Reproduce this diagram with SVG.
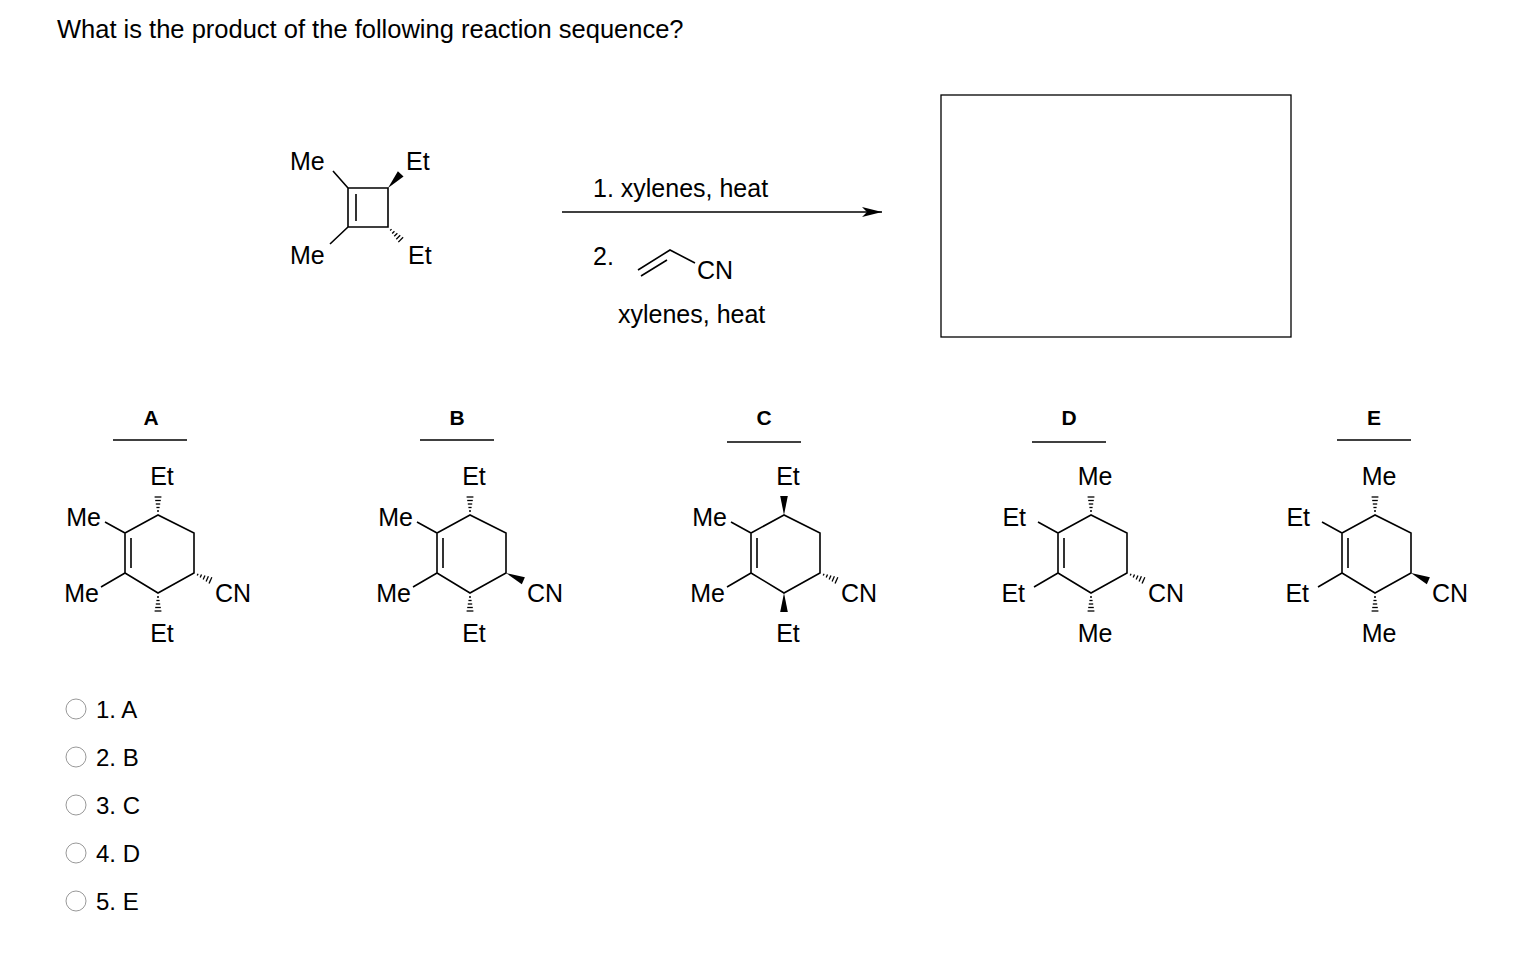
<svg xmlns="http://www.w3.org/2000/svg" width="1522" height="957" viewBox="0 0 1522 957">
<style>
text{font-family:"Liberation Sans",Arial,sans-serif;font-size:25px;fill:#000}
.b{stroke:#000;stroke-width:1.6;fill:none}
.h{stroke:#000;stroke-width:1.3}
.t{font-weight:bold;font-size:21px;text-anchor:middle}
.c{text-anchor:middle}
.e{text-anchor:end}
.o{font-size:24px}
.r{fill:#fff;stroke:#999;stroke-width:1}
</style>
<defs>
<g id="hash"><line class="h" x1="4" y1="-1" x2="4" y2="1"/><line class="h" x1="7.5" y1="-1.6" x2="7.5" y2="1.6"/><line class="h" x1="11" y1="-2.2" x2="11" y2="2.2"/><line class="h" x1="14.5" y1="-2.8" x2="14.5" y2="2.8"/><line class="h" x1="18" y1="-3.4" x2="18" y2="3.4"/></g>
<polygon id="wedge" points="0,0 19,-3.8 19,3.8" fill="#000"/>
<g id="ring"><path class="b" d="M158,515 L125,533 L125,573 L158,593 L194,573 L194,533 Z M131,538 L131,568 M125,533 L105,522 M125,573 L101,587"/></g>
<marker id="ah" markerWidth="22" markerHeight="10" refX="20" refY="5" orient="auto" markerUnits="userSpaceOnUse"><path d="M0,0 L20,5 L0,10 L5,5 Z" fill="#000"/></marker>
</defs>
<text x="57" y="38" style="font-size:25.5px">What is the product of the following reaction sequence?</text>
<g id="reactant">
<path class="b" d="M348,188 H388 V227 H348 Z M356,194 V221 M348,188 L333,171 M348,227 L330,244"/>
<use href="#wedge" transform="translate(388,188) rotate(-48)"/>
<use href="#hash" transform="translate(388,227) rotate(45)"/>
<text x="290" y="170">Me</text><text x="406" y="170">Et</text>
<text x="290" y="264">Me</text><text x="408" y="264">Et</text>
</g>
<g id="connectors">
<line class="b" x1="562" y1="212" x2="882" y2="212" marker-end="url(#ah)"/>
</g>
<g id="reagents">
<text x="593" y="197">1. xylenes, heat</text>
<text x="593" y="265">2.</text>
<path class="b" d="M638,270 L670,250 L695,263 M641,276 L667,260"/>
<text x="697" y="279">CN</text>
<text x="618" y="323">xylenes, heat</text>
</g>
<rect id="answer-box" x="941" y="95" width="350" height="242" fill="none" stroke="#000" stroke-width="1.3"/>
<g id="A">
<text class="t" x="151" y="425">A</text><line x1="113" y1="440" x2="187" y2="440" stroke="#000" stroke-width="1.3"/>
<use href="#ring"/>
<use href="#hash" transform="translate(158,515) rotate(-90)"/>
<use href="#hash" transform="translate(158,593) rotate(90)"/>
<use href="#hash" transform="translate(194,573) rotate(24)"/>
<text class="c" x="162" y="485">Et</text><text class="c" x="162" y="642">Et</text>
<text class="e" x="101" y="526">Me</text><text class="e" x="99" y="602">Me</text><text x="215" y="602">CN</text>
</g>
<g id="B" transform="translate(312,0)">
<text class="t" x="145" y="425">B</text><line x1="108" y1="440" x2="182" y2="440" stroke="#000" stroke-width="1.3"/>
<use href="#ring"/>
<use href="#hash" transform="translate(158,515) rotate(-90)"/>
<use href="#hash" transform="translate(158,593) rotate(90)"/>
<use href="#wedge" transform="translate(194,573) rotate(24)"/>
<text class="c" x="162" y="485">Et</text><text class="c" x="162" y="642">Et</text>
<text class="e" x="101" y="526">Me</text><text class="e" x="99" y="602">Me</text><text x="215" y="602">CN</text>
</g>
<g id="C" transform="translate(626,0)">
<text class="t" x="138" y="425">C</text><line x1="101" y1="442" x2="175" y2="442" stroke="#000" stroke-width="1.3"/>
<use href="#ring"/>
<use href="#wedge" transform="translate(158,515) rotate(-90)"/>
<use href="#wedge" transform="translate(158,593) rotate(90)"/>
<use href="#hash" transform="translate(194,573) rotate(24)"/>
<text class="c" x="162" y="485">Et</text><text class="c" x="162" y="642">Et</text>
<text class="e" x="101" y="526">Me</text><text class="e" x="99" y="602">Me</text><text x="215" y="602">CN</text>
</g>
<g id="D" transform="translate(933,0)">
<text class="t" x="136" y="425">D</text><line x1="99" y1="442" x2="173" y2="442" stroke="#000" stroke-width="1.3"/>
<use href="#ring"/>
<use href="#hash" transform="translate(158,515) rotate(-90)"/>
<use href="#hash" transform="translate(158,593) rotate(90)"/>
<use href="#hash" transform="translate(194,573) rotate(24)"/>
<text class="c" x="162" y="485">Me</text><text class="c" x="162" y="642">Me</text>
<text class="e" x="93" y="526">Et</text><text class="e" x="92" y="602">Et</text><text x="215" y="602">CN</text>
</g>
<g id="E" transform="translate(1217,0)">
<text class="t" x="157" y="425">E</text><line x1="120" y1="440" x2="194" y2="440" stroke="#000" stroke-width="1.3"/>
<use href="#ring"/>
<use href="#hash" transform="translate(158,515) rotate(-90)"/>
<use href="#hash" transform="translate(158,593) rotate(90)"/>
<use href="#wedge" transform="translate(194,573) rotate(24)"/>
<text class="c" x="162" y="485">Me</text><text class="c" x="162" y="642">Me</text>
<text class="e" x="93" y="526">Et</text><text class="e" x="92" y="602">Et</text><text x="215" y="602">CN</text>
</g>
<g id="options">
<circle class="r" cx="76" cy="709" r="10"/><text class="o" x="96" y="718">1. A</text>
<circle class="r" cx="76" cy="757" r="10"/><text class="o" x="96" y="766">2. B</text>
<circle class="r" cx="76" cy="805" r="10"/><text class="o" x="96" y="814">3. C</text>
<circle class="r" cx="76" cy="853" r="10"/><text class="o" x="96" y="862">4. D</text>
<circle class="r" cx="76" cy="901" r="10"/><text class="o" x="96" y="910">5. E</text>
</g>
</svg>
